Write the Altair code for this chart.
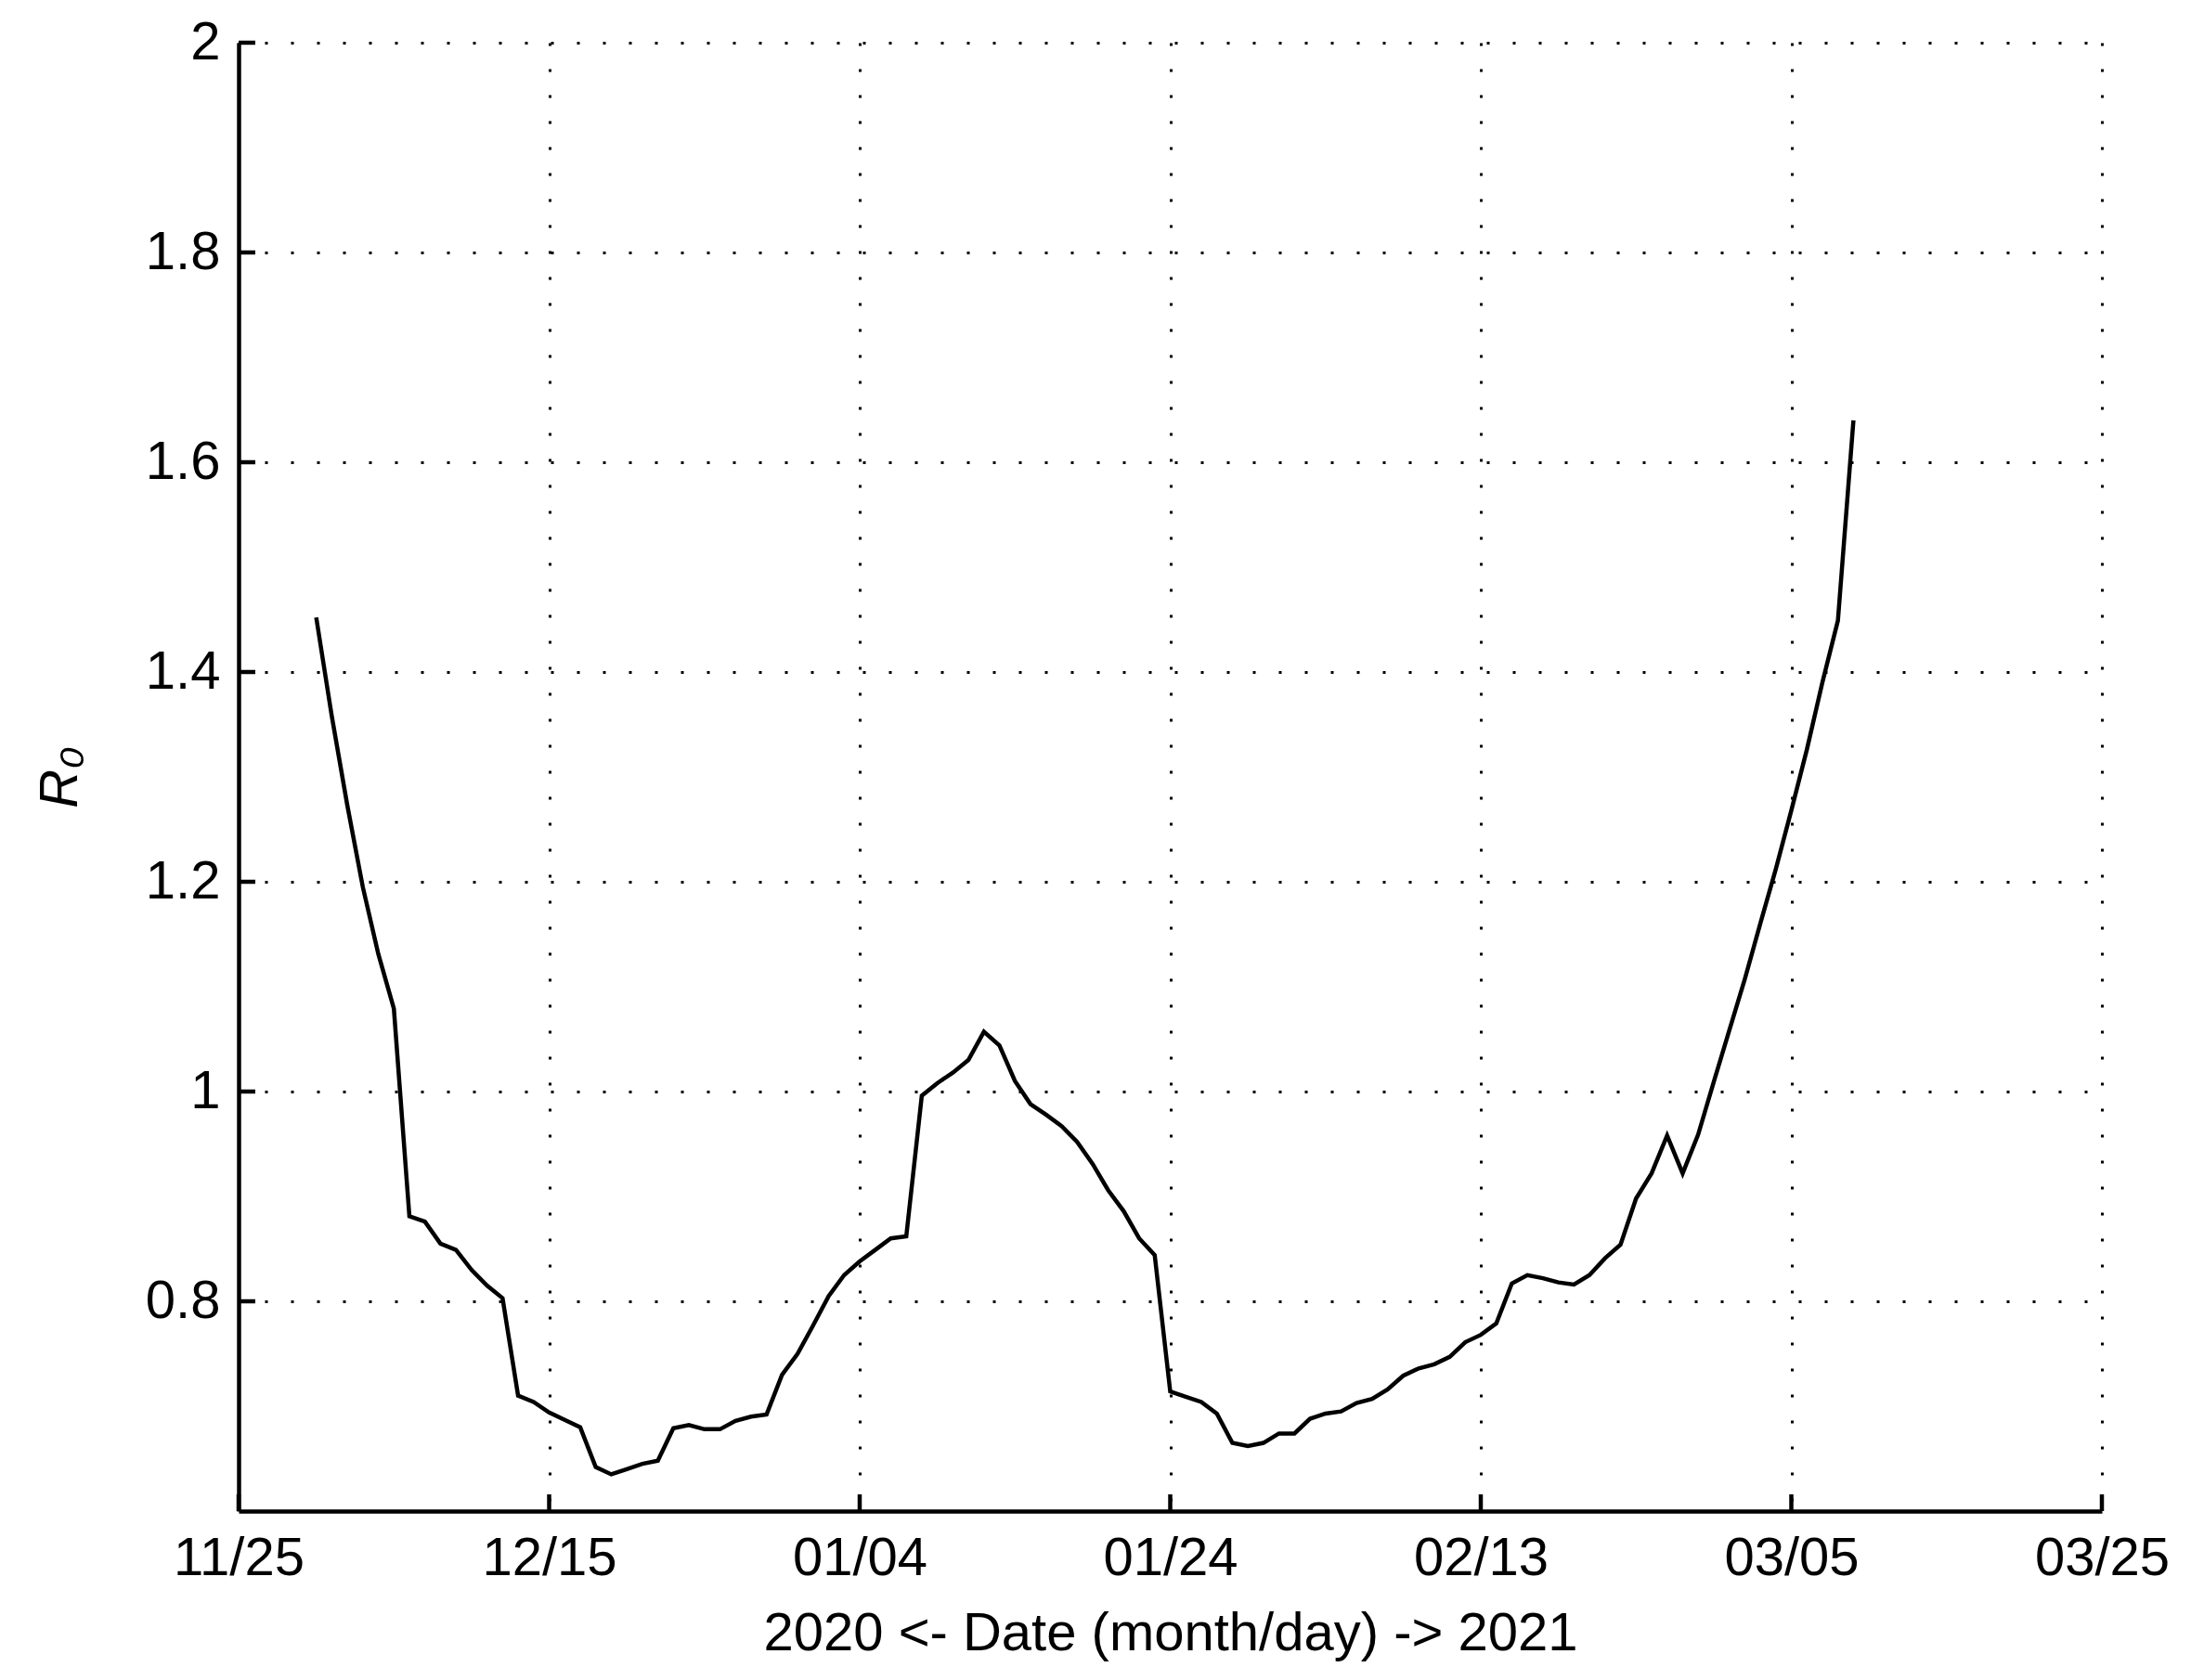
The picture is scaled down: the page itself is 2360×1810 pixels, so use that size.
import altair as alt
import pandas as pd

# ---- data ----
start_date = "2020-11-30"          # first day of the series
axis_origin = "2020-11-25"         # left end of the x axis
r0 = [
    1.452, 1.358, 1.273, 1.195, 1.131, 1.079, 0.881, 0.876, 0.855, 0.849,
    0.830, 0.815, 0.803, 0.710, 0.704, 0.694, 0.687, 0.680, 0.642, 0.635,
    0.640, 0.645, 0.648, 0.679, 0.682, 0.678, 0.678, 0.686, 0.690, 0.692,
    0.730, 0.750, 0.777, 0.805, 0.825, 0.838, 0.849, 0.860, 0.862, 0.996,
    1.008, 1.018, 1.030, 1.057, 1.044, 1.010, 0.988, 0.978, 0.967, 0.952,
    0.931, 0.906, 0.886, 0.860, 0.844, 0.714, 0.709, 0.704, 0.693, 0.665,
    0.662, 0.665, 0.674, 0.674, 0.688, 0.693, 0.695, 0.703, 0.707, 0.716,
    0.729, 0.736, 0.740, 0.747, 0.761, 0.768, 0.779, 0.817, 0.825, 0.822,
    0.818, 0.816, 0.825, 0.841, 0.854, 0.898, 0.922, 0.958, 0.922, 0.959,
    1.009, 1.058, 1.107, 1.160, 1.212, 1.268, 1.326, 1.390, 1.449, 1.640,
]
x_tick_days = [0, 20, 40, 60, 80, 100, 120]
x_tick_labels = ["11/25", "12/15", "01/04", "01/24", "02/13", "03/05", "03/25"]
y_ticks = [0.8, 1.0, 1.2, 1.4, 1.6, 1.8, 2.0]
x_title = "2020 <- Date (month/day) -> 2021"
y_title = "R\u2080"

# ---- tables ----
dates = pd.date_range(start_date, periods=len(r0), freq="D")
days = (dates - pd.Timestamp(axis_origin)).days
df = pd.DataFrame({"day": days, "r0": r0})
xt = pd.DataFrame({"day": x_tick_days})
yt = pd.DataFrame({"r0": y_ticks})

W, H = 2007, 1582
FONT = "Liberation Sans"
FS = 58
TICK = 18
LW = 4.5

label_expr = "[" + ",".join(f"'{s}'" for s in x_tick_labels) + "][round(datum.value/20)]"

xscale = alt.Scale(domain=[x_tick_days[0], x_tick_days[-1]], nice=False, zero=False)
yscale = alt.Scale(domain=[0.6, 2.0], nice=False, zero=False)

xaxis = alt.Axis(values=x_tick_days, labelExpr=label_expr, title=x_title,
                 labelPadding=22, titlePadding=23, labelFlush=False)
yaxis = alt.Axis(values=y_ticks, format="~g", title=y_title,
                 labelPadding=20, titlePadding=62, titleFontStyle="italic",
                 labelFlush=False)

line = alt.Chart(df).mark_line(color="black", strokeWidth=LW).encode(
    x=alt.X("day:Q", scale=xscale, axis=xaxis, title=x_title),
    y=alt.Y("r0:Q", scale=yscale, axis=yaxis, title=y_title),
)

ytick_marks = alt.Chart(yt).mark_rule(color="black", strokeWidth=LW).encode(
    y=alt.Y("r0:Q", scale=yscale, axis=yaxis, title=y_title),
    x=alt.value(0),
    x2=alt.value(TICK),
)

xtick_marks = alt.Chart(xt).mark_rule(color="black", strokeWidth=LW).encode(
    x=alt.X("day:Q", scale=xscale, axis=xaxis, title=x_title),
    y=alt.value(H),
    y2=alt.value(H - TICK),
)

chart = (
    alt.layer(line, ytick_marks, xtick_marks)
    .properties(
        width=W,
        height=H,
        autosize=alt.AutoSizeParams(type="none"),
        padding={"left": 249, "top": 38, "right": 88, "bottom": 174},
        background="white",
    )
    .configure_view(stroke=None)
    .configure_axis(
        labelFont=FONT, titleFont=FONT,
        labelFontSize=FS, titleFontSize=FS,
        labelColor="black", titleColor="black",
        titleFontWeight="normal",
        ticks=False,
        domain=True,
        domainColor="black", domainWidth=LW,
        grid=True, gridColor="black", gridOpacity=1,
        gridDash=[3, 25], gridWidth=3,
        labelOverlap=False,
        labelFlush=False,
    )
)

chart.save("out.html", embed_options={"renderer": "svg", "actions": False})
